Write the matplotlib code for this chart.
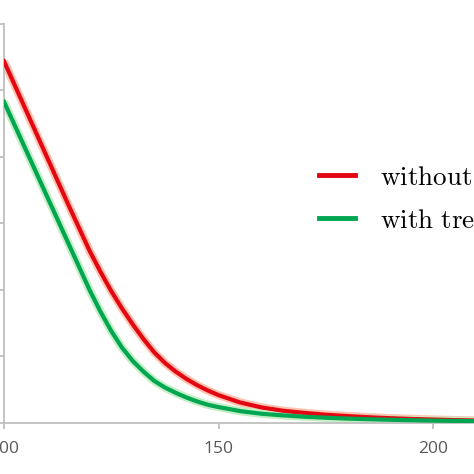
import matplotlib
matplotlib.use("Agg")
import matplotlib.pyplot as plt

# ---- data ----
x_vals = [100, 105, 110, 115, 120, 122.5, 125, 127.5, 130, 132.5, 135, 137.5, 140,
          142.5, 145, 147.5, 150, 155, 160, 165, 170, 175, 180, 185, 190, 195, 200,
          205, 210, 215]
without_treatment = [5.44, 4.72, 4.00, 3.28, 2.58, 2.27, 1.98, 1.72, 1.48, 1.26, 1.06,
                     0.90, 0.77, 0.66, 0.565, 0.485, 0.415, 0.305, 0.23, 0.18, 0.148,
                     0.12, 0.10, 0.082, 0.068, 0.056, 0.047, 0.039, 0.033, 0.028]
with_treatment = [4.83, 4.12, 3.41, 2.70, 1.99, 1.67, 1.38, 1.13, 0.93, 0.77, 0.63,
                  0.53, 0.45, 0.38, 0.32, 0.27, 0.235, 0.175, 0.135, 0.11, 0.09, 0.075,
                  0.062, 0.052, 0.044, 0.037, 0.031, 0.027, 0.023, 0.020]
x_ticks = [100, 150, 200]
y_ticks = [0, 1, 2, 3, 4, 5, 6]
labels = ["without treatment", "with treatment"]

plt.rcParams["mathtext.fontset"] = "cm"

W = H = 474
fig = plt.figure(figsize=(4.74, 4.74), dpi=100)
x0, x1 = 100, 215
px_per_unit = 4.29
left_px = 4
width_px = (x1 - x0) * px_per_unit
bottom_px = 474 - 422.7
height_px = 422.7 - 24
ax = fig.add_axes([left_px / W, bottom_px / H, width_px / W, height_px / H])

red = "#E30613"
red_halo = "#FFC4B0"
green = "#00A651"
green_halo = "#C4EEC4"

ax.plot(x_vals, without_treatment, color=red_halo, lw=6.0, solid_capstyle="butt",
        solid_joinstyle="round", zorder=2)
ax.plot(x_vals, with_treatment, color=green_halo, lw=6.0, solid_capstyle="butt",
        solid_joinstyle="round", zorder=2)
l1, = ax.plot(x_vals, without_treatment, color=red, lw=3.0, zorder=3,
              solid_joinstyle="round",
              label=r"$\mathrm{" + labels[0].replace(" ", r"\ ") + "}$")
l2, = ax.plot(x_vals, with_treatment, color=green, lw=3.0, zorder=3,
              solid_joinstyle="round",
              label=r"$\mathrm{" + labels[1].replace(" ", r"\ ") + "}$")

ax.set_xlim(x0, x1)
ax.set_ylim(0, 6)
ax.set_xticks(x_ticks)
ax.set_yticks(y_ticks)
for s in ["top", "right"]:
    ax.spines[s].set_visible(False)
for s in ["left", "bottom"]:
    ax.spines[s].set_color("#BFBFBF")
    ax.spines[s].set_linewidth(1.3)
ax.tick_params(axis="both", colors="#BFBFBF", length=4, width=1.3, direction="out")
ax.tick_params(axis="x", labelcolor="#595959", labelsize=12.5, pad=9)
ax.tick_params(axis="y", labelleft=False)
for t in ax.get_xticklabels():
    t.set_fontfamily("Open Sans")

leg = ax.legend(handles=[l1, l2], loc="upper left",
                bbox_to_anchor=(308 / W, (474 - 154) / H), bbox_transform=fig.transFigure,
                frameon=False, fontsize=19.5, handlelength=1.33, handletextpad=0.93,
                labelspacing=0.62, borderaxespad=0)
for ln in leg.get_lines():
    ln.set_linewidth(3.5)

fig.savefig("out.png", dpi=100)
